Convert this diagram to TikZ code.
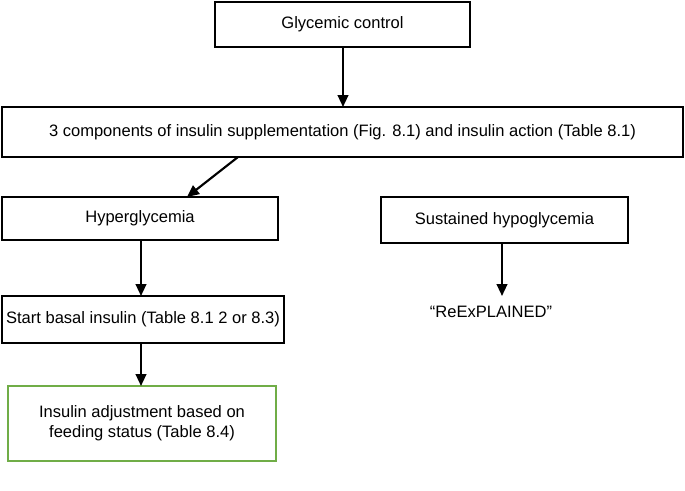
\documentclass[tikz,border=0pt]{standalone}
\usepackage{fontspec}
\setmainfont{Liberation Sans}
\usetikzlibrary{arrows.meta}
\begin{document}
\begin{tikzpicture}[x=0.75pt,y=0.75pt,yscale=-1,xscale=1,
  box/.style={draw,line width=0.9pt,inner sep=1pt,font=\fontsize{12.4}{15}\selectfont,align=center},
  arr/.style={line width=1.6pt,-{Triangle[length=9pt,width=8pt]}}]
\useasboundingbox (0,0) rectangle (685,490);

% Boxes
\node[box,minimum width=255*0.75pt,minimum height=45*0.75pt] (glyc) at (342.5,24.5) {Glycemic control};
\node[box,minimum width=681*0.75pt,minimum height=50*0.75pt] (comp) at (342.5,132) {3 components of insulin supplementation (Fig. 8.1) and insulin action (Table 8.1)};
\node[box,minimum width=276*0.75pt,minimum height=43*0.75pt] (hyper) at (140,218.5) {Hyperglycemia};
\node[box,minimum width=247*0.75pt,minimum height=46*0.75pt] (hypo) at (504.5,220) {Sustained hypoglycemia};
\node[box,minimum width=282*0.75pt,minimum height=47*0.75pt] (basal) at (143,319.5) {Start basal insulin (Table 8.1 2 or 8.3)};
\node[box,draw={rgb,255:red,112;green,173;blue,71},line width=1.4pt,minimum width=268*0.75pt,minimum height=75*0.75pt] (adjust) at (142,423.5) {Insulin adjustment based on\\feeding status (Table 8.4)};
% Text Node
\node[font=\fontsize{12.4}{15}\selectfont,inner sep=2pt] (expl) at (491,312) {“ReExPLAINED”};

% Arrows
\draw[arr] (343,47) -- (343,107);
\draw[arr] (238,157) -- (187,197);
\draw[arr] (141,240) -- (141,296);
\draw[arr] (502,243) -- (502,296);
\draw[arr] (141,343) -- (141,386);
\end{tikzpicture}
\end{document}
